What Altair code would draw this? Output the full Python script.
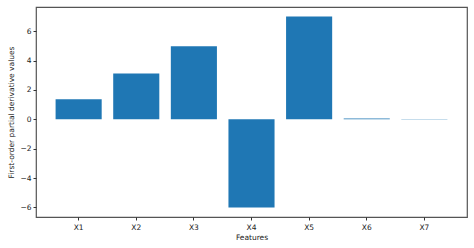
import altair as alt
import pandas as pd

features = ["X1", "X2", "X3", "X4", "X5", "X6", "X7"]
values = [1.36, 3.12, 4.98, -6.0, 7.0, 0.05, 0.02]

df = pd.DataFrame({"feature": features, "value": values})

chart = alt.Chart(df).mark_bar(color="#1f77b4").encode(
    x=alt.X("feature:N", sort=features,
            scale=alt.Scale(paddingInner=0.2, paddingOuter=0.34),
            axis=alt.Axis(title="Features", labelAngle=0, domain=False,
                          tickColor="#333", tickSize=3, labelFontSize=7.5,
                          labelColor="#222", titleFontSize=7.5, titleFontWeight="normal",
                          titleColor="#222", labelPadding=3, titlePadding=3,
                          labelFont="DejaVu Sans", titleFont="DejaVu Sans")),
    y=alt.Y("value:Q",
            scale=alt.Scale(domain=[-6.65, 7.65], nice=False, zero=False),
            axis=alt.Axis(title="First-order partial derivative values",
                          values=[-6, -4, -2, 0, 2, 4, 6], grid=False, domain=False,
                          tickColor="#333", tickSize=3, labelFontSize=7.5,
                          labelColor="#222", titleFontSize=7.5, titleFontWeight="normal",
                          titleColor="#222", labelPadding=2, titlePadding=4,
                          labelExpr="replace(datum.label, '-', '\u2212')",
                          labelFont="DejaVu Sans", titleFont="DejaVu Sans")),
).properties(
    width=431, height=210,
    background="white",
    autosize=alt.AutoSizeParams(type="none"),
    padding={"left": 36, "top": 7, "right": 7, "bottom": 31},
).configure_view(stroke="#555555", strokeWidth=1.2)

chart.save("out.html", embed_options={"renderer": "svg", "actions": False})
